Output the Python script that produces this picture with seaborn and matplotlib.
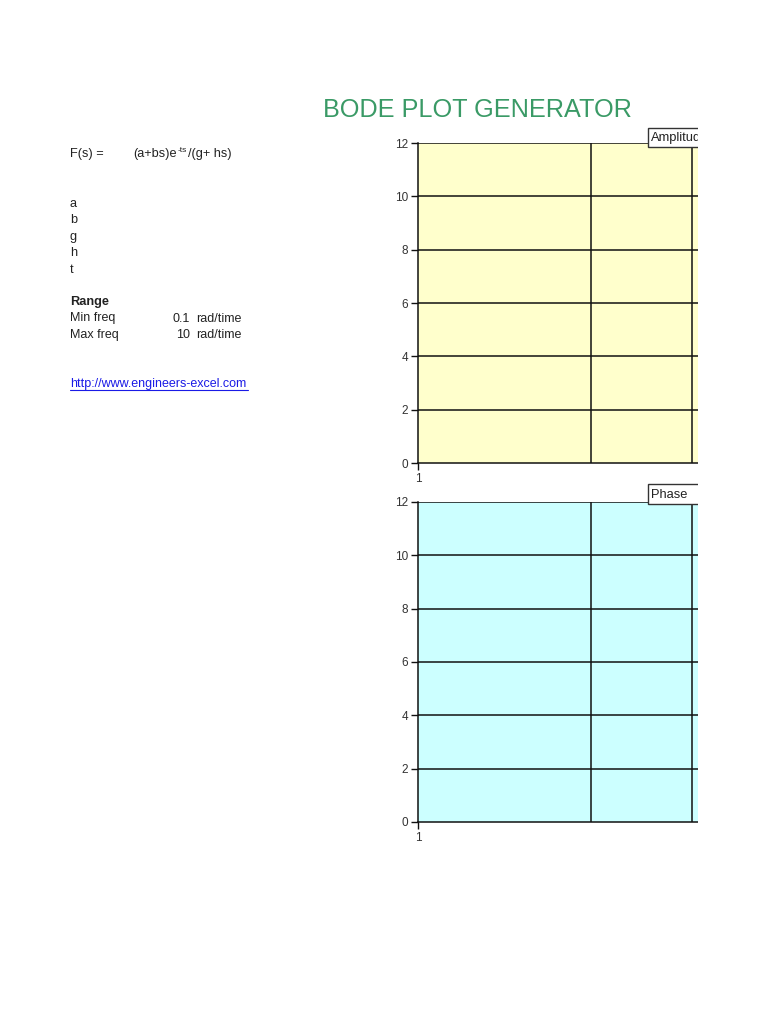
import numpy as np
import pandas as pd
import matplotlib
matplotlib.use("Agg")
import matplotlib.pyplot as plt
import seaborn as sns
from matplotlib.patches import Rectangle

# ---------------- data ----------------
title = "BODE PLOT GENERATOR"
formula_lhs = "F(s) ="
formula_parts = ["(a+bs)e", "-ts", "/(g+ hs)"]
parameters = ["a", "b", "g", "h", "t"]
range_labels = ["Min freq", "Max freq"]
range_values = ["0.1", "10"]
range_unit = "rad/time"
url = "http://www.engineers-excel.com"

panel_names = ["Amplitude", "Phase"]
panel_colors = ["#FFFFCC", "#CCFFFF"]
y_ticks = [0, 2, 4, 6, 8, 10, 12]
x_limits = [1, 15.57]
x_ticks = [1]
x_tick_labels = ["1"]
x_gridlines = [10, 15.25]
# empty series (the sheet shows no computed curve)
freq = []
values = []

# ---------------- style ----------------
sns.set_style("white")
plt.rcParams["font.family"] = ["Liberation Sans", "DejaVu Sans"]

W, H = 768, 1024
fig = plt.figure(figsize=(W / 100, H / 100), dpi=100)
fig.patch.set_facecolor("white")


def fx(px):
    return px / W


def fy(py):
    return 1 - py / H


def ftext(px, py, s, **kw):
    kw.setdefault("fontsize", 9)
    kw.setdefault("va", "baseline")
    kw.setdefault("ha", "left")
    kw.setdefault("color", "#222222")
    return fig.text(fx(px), fy(py), s, **kw)


# ---------------- left-hand text ----------------
ftext(477, 117, title, fontsize=18.2, color="#3A9A66", ha="center")
ftext(70, 157, formula_lhs, fontsize=9.2)
ftext(133, 157, formula_parts[0], fontsize=9.2)
ftext(177.5, 152, formula_parts[1], fontsize=6)
ftext(187.5, 157, formula_parts[2], fontsize=9.2)
for i, p in enumerate(parameters):
    ftext(70, 206.8 + i * 16.5, p, fontsize=9.2)
ftext(70, 305, "Range", fontweight="bold", fontsize=9.2)
for i, (lab, val) in enumerate(zip(range_labels, range_values)):
    yy = 321.5 + i * 16.5
    ftext(70, yy, lab, fontsize=9.0)
    ftext(190, yy, val, ha="right", fontsize=9.0)
    ftext(196, yy, range_unit, fontsize=9.0)
ftext(70, 387.5, url, color="#1A1AE6", fontsize=9.0)
fig.add_artist(plt.Line2D([fx(70), fx(248)], [fy(390), fy(390)], color="#1A1AE6", lw=0.8))

# ---------------- charts ----------------
panels = [(143, 463), (502, 822)]
legend_boxes = [(128, 147), (484, 504)]
left_px, right_px = 418, 698
for (top, bot), (lt, lb), name, col in zip(panels, legend_boxes, panel_names, panel_colors):
    ax = fig.add_axes([fx(left_px), fy(bot), fx(right_px - left_px), (bot - top) / H])
    df = pd.DataFrame({"freq": pd.Series(freq, dtype=float),
                       "value": pd.Series(values, dtype=float)})
    sns.lineplot(data=df, x="freq", y="value", ax=ax)
    ax.set_facecolor(col)
    ax.set_xlim(*x_limits)
    ax.set_ylim(min(y_ticks), max(y_ticks))
    ax.set_yticks(y_ticks)
    ax.set_xticks(x_ticks)
    ax.set_xticklabels(x_tick_labels)
    ax.set_xlabel("")
    ax.set_ylabel("")
    for yv in y_ticks[1:]:
        ax.axhline(yv, color="#111111", lw=1.1, zorder=1)
    for xv in x_gridlines:
        ax.axvline(xv, color="#111111", lw=1.1, zorder=1)
    for s in ["top", "right"]:
        ax.spines[s].set_visible(False)
    for s in ["left", "bottom"]:
        ax.spines[s].set_visible(True)
        ax.spines[s].set_color("#111111")
        ax.spines[s].set_linewidth(1.1)
    ax.tick_params(axis="both", direction="out", length=5, width=1, color="#111111",
                   labelsize=8.5, labelcolor="#333333", pad=2, left=True, bottom=True)

    # legend box (cut by the page edge)
    fig.add_artist(Rectangle((fx(648), fy(lb)), fx(60), (lb - lt) / H, transform=fig.transFigure,
                             facecolor="white", edgecolor="#333333", lw=1.0, zorder=6))
    fig.text(fx(651), fy((lt + lb) / 2 + 0.5), name, fontsize=9.3, color="#222222",
             ha="left", va="center", zorder=7)

# page is cut at the right of the charts
fig.add_artist(Rectangle((fx(right_px), 0), 1 - fx(right_px), 1, transform=fig.transFigure,
                         facecolor="white", edgecolor="none", zorder=20))

fig.savefig("out.png", dpi=100, facecolor="white")
